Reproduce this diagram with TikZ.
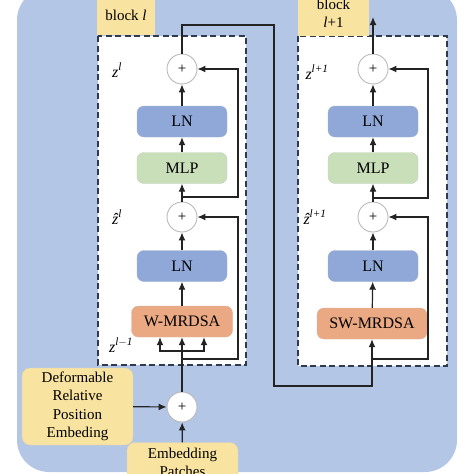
\documentclass[tikz,border=0pt]{standalone}
\usepackage{fontspec}
\setmainfont{Liberation Serif}
\usetikzlibrary{positioning,arrows.meta}
\definecolor{bgblue}{RGB}{180,198,230}
\definecolor{lnblue}{RGB}{143,168,216}
\definecolor{mlpgreen}{RGB}{200,223,185}
\definecolor{attorange}{RGB}{234,169,130}
\definecolor{tagyellow}{RGB}{248,227,160}
\definecolor{dashnavy}{RGB}{46,58,80}
\definecolor{wire}{RGB}{35,35,35}
\begin{document}
\begin{tikzpicture}[x=1pt,y=-1pt,
	font=\fontsize{15}{18.5}\selectfont,
	>={Latex[length=8pt,width=7pt]},
	wr/.style={draw=wire, line width=1.2pt},
	blk/.style={rounded corners=7pt, minimum width=90pt, minimum height=31pt, inner sep=0pt, font=\fontsize{16}{16}\selectfont},
	lnbox/.style={blk, fill=lnblue, draw=lnblue!85!black!70},
	mlpbox/.style={blk, fill=mlpgreen, draw=mlpgreen!80!black!60},
	attbox/.style={blk, fill=attorange, draw=attorange!85!black!70},
	plus/.style={circle, draw=gray!55, line width=0.9pt, fill=white, minimum size=30pt, inner sep=0pt, font=\fontsize{15}{15}\selectfont},
	tag/.style={fill=tagyellow, inner sep=0pt, align=center},
	inbox/.style={fill=tagyellow, draw=tagyellow!80!black!60, rounded corners=8pt, inner sep=0pt, align=center, minimum width=111pt},
	frame/.style={draw=dashnavy, fill=white, line width=1.1pt, dash pattern=on 6pt off 3.5pt},
	zlab/.style={font=\fontsize{16}{16}\selectfont\itshape}]
	\useasboundingbox (0,0) rectangle (474,474);
	% background and the two blocks
	\fill[bgblue, rounded corners=32pt] (17,-12) rectangle (457,472);
	\draw[frame] (98,36) rectangle (246,365);
	\draw[frame] (298,36) rectangle (447,366);
	\node[tag, minimum width=58pt, minimum height=40pt] (tagA) at (126,15) {block \textit{l}};
	\node[tag, minimum width=71pt, minimum height=45pt] (tagB) at (333.5,13.5) {block\\\textit{l}+1};
	% block l
	\draw (182,69) node[plus] (pl1) {+};
	\draw (182,121.5) node[lnbox] (ln1) {LN};
	\draw (182,168) node[mlpbox] (mlp1) {MLP};
	\draw (182,217) node[plus] (pl2) {+};
	\draw (182,266) node[lnbox] (ln2) {LN};
	\draw (182,321.5) node[attbox, minimum width=101pt] (att1) {W-MRDSA};
	\node[zlab] (za) at (117,70) {z\textsuperscript{l}};
	\node[zlab] (zha) at (117,217) {\^{z}\textsuperscript{l}};
	\node[zlab] (zin) at (121,345) {z\textsuperscript{l$-$1}};
	% block l+1
	\draw (373,69) node[plus] (pr1) {+};
	\draw (373,121.5) node[lnbox] (ln3) {LN};
	\draw (373,168) node[mlpbox] (mlp2) {MLP};
	\draw (373,217) node[plus] (pr2) {+};
	\draw (373,266) node[lnbox] (ln4) {LN};
	\draw (372,323.5) node[attbox, minimum width=110pt] (att2) {SW-MRDSA};
	\node[zlab] (zb) at (317,72) {z\textsuperscript{l+1}};
	\node[zlab] (zhb) at (315,217) {\^{z}\textsuperscript{l+1}};
	% inputs
	\draw (182,407) node[plus] (pin) {+};
	\draw (77.5,406.5) node[inbox, minimum height=77pt] (dre) {Deformable\\Relative\\Position\\Embeding};
	\draw (182.5,462.5) node[inbox, minimum height=40pt] (emb) {Embedding\\Patches};
	% connectors, block l
	\coordinate (fk) at (182,351);
	\coordinate (s1) at (182,359);
	\coordinate (s2) at (182,197);
	\draw[wr,->] (emb) -- (pin);
	\draw[wr,->] (dre) -- (pin);
	\draw[wr,->] (pin) -- (att1);
	\draw[wr,->] (fk) -| ([xshift=-22pt]att1.south);
	\draw[wr,->] (fk) -| ([xshift=22pt]att1.south);
	\draw[wr,->] (att1) -- (ln2);
	\draw[wr,->] (ln2) -- (pl2);
	\draw[wr,->] (pl2) -- (mlp1);
	\draw[wr,->] (mlp1) -- (ln1);
	\draw[wr,->] (ln1) -- (pl1);
	\draw[wr,->] (s1) -- ++(56,0) |- (pl2);
	\draw[wr,->] (s2) -- ++(56,0) |- (pl1);
	\draw[wr,->] (pl1) -- (182,25) -- (274,25) -- (274,386) -| (att2);
	% connectors, block l+1
	\coordinate (s3) at (373,359);
	\coordinate (s4) at (373,198);
	\coordinate (out) at (373,17);
	\draw[wr,->] (att2) -- (ln4);
	\draw[wr,->] (ln4) -- (pr2);
	\draw[wr,->] (pr2) -- (mlp2);
	\draw[wr,->] (mlp2) -- (ln3);
	\draw[wr,->] (ln3) -- (pr1);
	\draw[wr,->] (s3) -- ++(55,0) |- (pr2);
	\draw[wr,->] (s4) -- ++(55,0) |- (pr1);
	\draw[wr,->] (pr1) -- (out);
\end{tikzpicture}
\end{document}
